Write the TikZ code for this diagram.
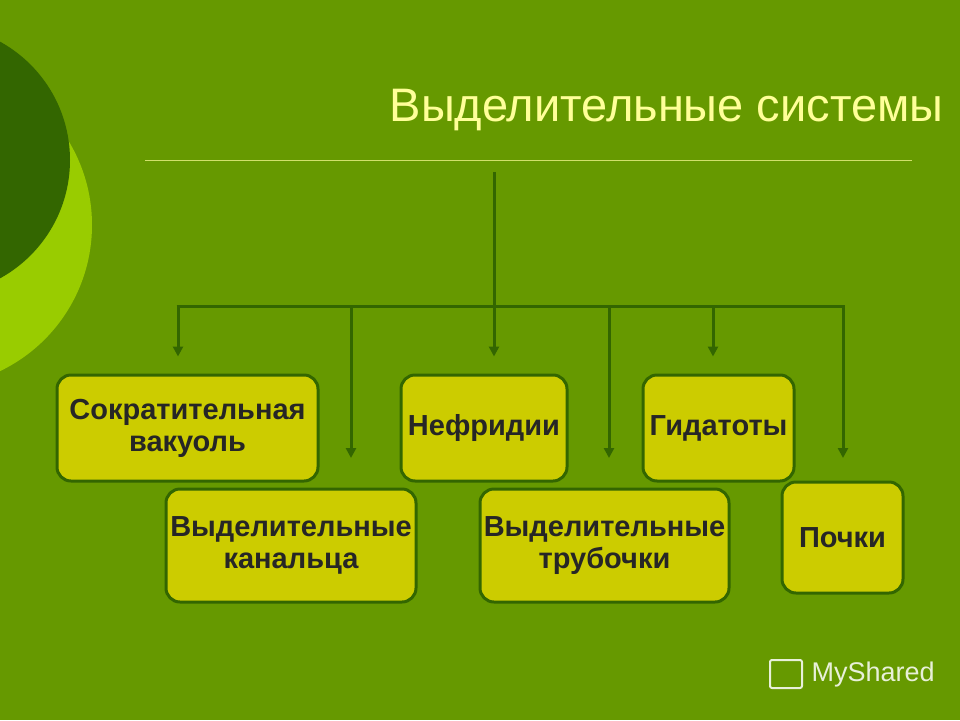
\documentclass[tikz,border=0pt]{standalone}
\usepackage{fontspec}
\setmainfont{Liberation Sans}
\usetikzlibrary{arrows.meta}
\definecolor{bg}{HTML}{669900}
\definecolor{dk}{HTML}{336600}
\definecolor{lt}{HTML}{99CC00}
\definecolor{boxf}{HTML}{CCCC00}
\definecolor{ttl}{HTML}{FFFF99}
\tikzset{
 box/.style={draw=dk,line width=3pt,fill=boxf,rounded corners=14pt,inner sep=0pt,align=center,font=\fontsize{29}{32}\selectfont\bfseries,text=black!85},
 conn/.style={dk,line width=3pt},
 arr/.style={conn,-{Triangle[length=10pt,width=10pt]}}
}
\begin{document}
\begin{tikzpicture}[x=1pt,y=-1pt]
\useasboundingbox (0,0) rectangle (960,720);
\fill[bg] (0,0) rectangle (960,720);
\begin{scope}
\clip (0,0) rectangle (960,720);
\fill[lt] (-70,225) circle (162);
\fill[dk] (-65,160) circle (135);
\end{scope}
\node[text=ttl,anchor=east,font=\fontsize{47}{52}\selectfont] (title) at (947,110) {Выделительные системы};
\draw[ttl!70!bg,line width=0.8pt] (145,160) -- (912,160);
\node[box,minimum width=261pt,minimum height=106pt] (b1) at (187.5,428) {Сократительная\\вакуоль};
\node[box,minimum width=250pt,minimum height=113pt] (b2) at (291,545.5) {Выделительные\\канальца};
\node[box,minimum width=166pt,minimum height=106pt] (b3) at (484,428) {Нефридии};
\node[box,minimum width=249pt,minimum height=113pt] (b4) at (604.5,545.5) {Выделительные\\трубочки};
\node[box,minimum width=151pt,minimum height=106pt] (b5) at (718.5,428) {Гидатоты};
\node[box,minimum width=121pt,minimum height=111pt] (b6) at (842.5,537.5) {Почки};
\coordinate (top) at (494,172);
\coordinate (hl) at (178,306);
\coordinate (hr) at (843,306);
\coordinate (e2) at (351,458);
\coordinate (e4) at (609,458);
\coordinate (e6) at (843,458);
\draw[conn] ([xshift=-1.5pt]hl) -- ([xshift=1.5pt]hr);
\draw[arr] (top) -- ([yshift=17pt]b3.north -| top);
\draw[arr] (hl) -- ([yshift=17pt]b1.north -| hl);
\draw[arr] (351,306) -- (e2);
\draw[arr] (609,306) -- (e4);
\draw[arr] (713,306) -- ([yshift=17pt]b5.north -| 713,0);
\draw[arr] (hr) -- (e6);
\node[text=white!85!bg,font=\fontsize{27}{30}\selectfont,anchor=west] (logo) at (808,675) {MyShared};
\draw[white!85!bg,line width=2pt,rounded corners=2pt] (770,660) rectangle (802,688);
\end{tikzpicture}
\end{document}
